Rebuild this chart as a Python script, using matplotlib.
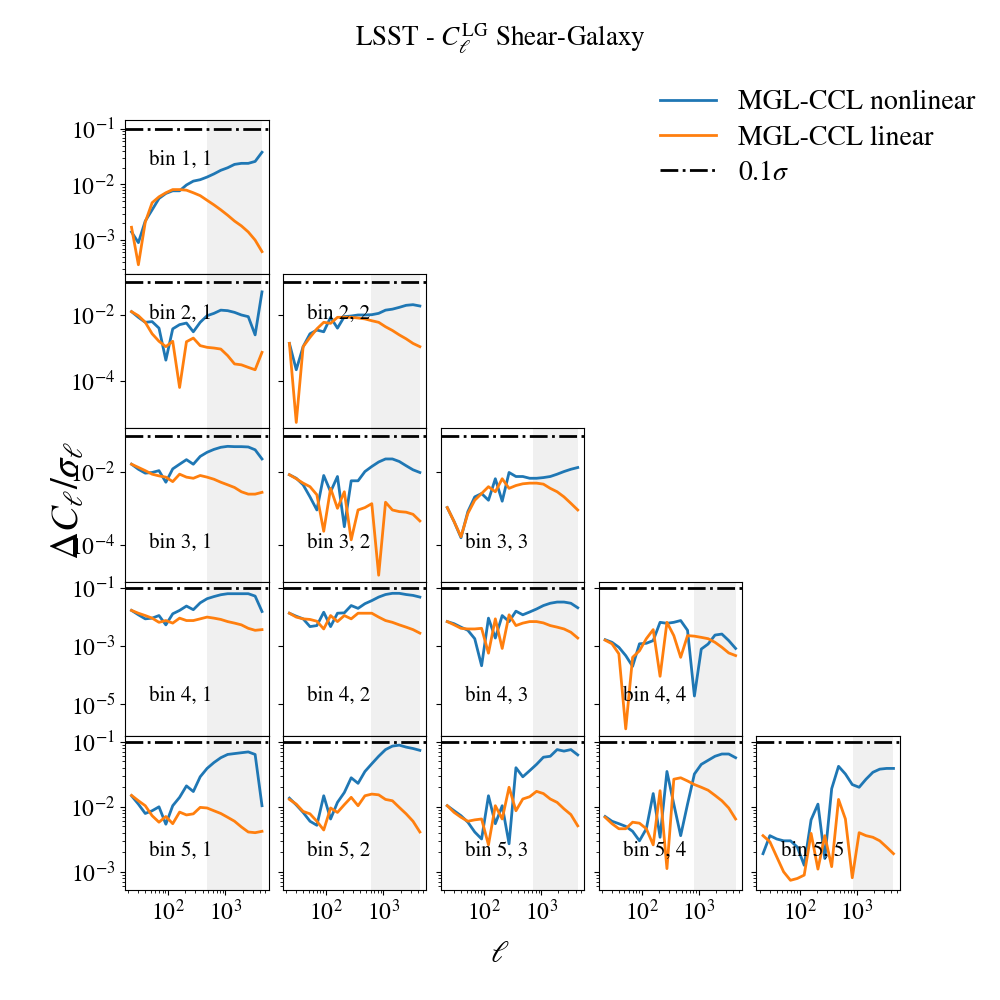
import numpy as np
import matplotlib
matplotlib.use('Agg')
import matplotlib.pyplot as plt
from matplotlib.ticker import FixedLocator, NullLocator, LogFormatterSciNotation

plt.rcParams['font.family'] = 'STIXGeneral'
plt.rcParams['mathtext.fontset'] = 'stix'

# multipole centres
ell = [22.96, 30.26, 39.88, 52.56, 69.28, 91.30, 120.34, 158.6, 209.0, 275.5,
       363.1, 478.6, 630.7, 831.3, 1095.6, 1444.0, 1903.1, 2508.2, 3305.7, 4356.8]

# scale cut per lens column
ell_cut = [470, 615, 730, 810, 850]
sigma_frac = 0.1

# nonlinear (blue) and linear (orange) residuals, panel "bin i, j"
nl_11 = [1.4e-3, 9e-4, 2.2e-3, 3.5e-3, 5.6e-3, 6.9e-3, 7.7e-3, 7.7e-3, 9.8e-3, 1.15e-2,
         1.22e-2, 1.36e-2, 1.55e-2, 1.8e-2, 2.0e-2, 2.3e-2, 2.4e-2, 2.4e-2, 2.6e-2, 3.8e-2]
li_11 = [1.7e-3, 3.6e-4, 2.1e-3, 4.7e-3, 6.0e-3, 7.1e-3, 8.1e-3, 8.1e-3, 7.9e-3, 7.1e-3,
         6.3e-3, 5.2e-3, 4.3e-3, 3.5e-3, 2.8e-3, 2.2e-3, 1.8e-3, 1.4e-3, 1.0e-3, 6.2e-4]

nl_21 = [1.26e-2, 8.5e-3, 6.0e-3, 6.3e-3, 4.0e-3, 4.3e-4, 3.8e-3, 5.1e-3, 5.7e-3, 3.1e-3,
         6.0e-3, 9.5e-3, 1.12e-2, 1.4e-2, 1.35e-2, 1.2e-2, 1.0e-2, 8.9e-3, 2.5e-3, 5.0e-2]
li_21 = [1.26e-2, 9.5e-3, 6.0e-3, 2.7e-3, 1.6e-3, 1.1e-3, 1.6e-3, 6.4e-5, 1.55e-3, 2.0e-3,
         1.18e-3, 1.05e-3, 1.0e-3, 9.3e-4, 5.9e-4, 3.3e-4, 3.1e-4, 2.6e-4, 2.2e-4, 7.4e-4]
nl_22 = [1.38e-3, 2.2e-4, 1.1e-3, 2.7e-3, 3.5e-3, 3.1e-3, 8.5e-3, 4.0e-3, 8.9e-3, 9.3e-3,
         1.0e-2, 1.0e-2, 1.02e-2, 1.12e-2, 1.4e-2, 1.5e-2, 1.7e-2, 1.96e-2, 2.05e-2, 1.87e-2]
li_22 = [1.38e-3, 5.6e-6, 1.1e-3, 2.1e-3, 3.8e-3, 6.0e-3, 5.6e-3, 8.5e-3, 8.5e-3, 8.5e-3,
         8.1e-3, 7.6e-3, 6.7e-3, 6.0e-3, 4.4e-3, 3.4e-3, 2.5e-3, 1.9e-3, 1.38e-3, 1.1e-3]

nl_31 = [1.65e-2, 1.2e-2, 9.4e-3, 9.8e-3, 1.1e-2, 5.3e-3, 1.23e-2, 1.65e-2, 2.2e-2, 1.65e-2,
         2.7e-2, 3.5e-2, 4.2e-2, 4.8e-2, 5.1e-2, 5.0e-2, 5.0e-2, 4.9e-2, 4.1e-2, 2.3e-2]
li_31 = [1.65e-2, 1.35e-2, 1.1e-2, 8.8e-3, 7.9e-3, 7.3e-3, 5.5e-3, 8.8e-3, 7.3e-3, 6.8e-3,
         8.1e-3, 7.3e-3, 6.4e-3, 5.3e-3, 4.5e-3, 3.8e-3, 2.9e-3, 2.5e-3, 2.5e-3, 2.8e-3]
nl_32 = [8.5e-3, 6.8e-3, 4.5e-3, 2.1e-3, 9.2e-4, 8.1e-3, 2.9e-3, 7.6e-3, 3.2e-4, 5.8e-3,
         5.8e-3, 1.04e-2, 1.43e-2, 1.9e-2, 2.3e-2, 2.3e-2, 1.96e-2, 1.5e-2, 1.16e-2, 9.8e-3]
li_32 = [8.5e-3, 6.6e-3, 5.0e-3, 4.0e-3, 2.4e-3, 2.4e-4, 3.6e-3, 1.02e-3, 2.9e-3, 1.4e-4,
         9.2e-4, 1.07e-3, 1.37e-3, 1.5e-5, 1.5e-3, 9.2e-4, 8.3e-4, 8.0e-4, 7.0e-4, 4.6e-4]
nl_33 = [1.07e-3, 4.4e-4, 1.6e-4, 8.3e-4, 2.1e-3, 2.6e-3, 1.7e-3, 6.6e-3, 1.6e-3, 9.8e-3,
         7.6e-3, 7.6e-3, 6.8e-3, 6.8e-3, 7.1e-3, 7.6e-3, 8.8e-3, 1.04e-2, 1.2e-2, 1.34e-2]
li_33 = [1.07e-3, 4.4e-4, 1.7e-4, 7.4e-4, 1.7e-3, 2.6e-3, 4.0e-3, 2.9e-3, 6.6e-3, 3.6e-3,
         4.3e-3, 4.8e-3, 5.0e-3, 5.0e-3, 4.7e-3, 3.6e-3, 2.9e-3, 2.1e-3, 1.4e-3, 9.2e-4]

nl_41 = [1.7e-2, 1.2e-2, 8.7e-3, 9.2e-3, 1.13e-2, 5.4e-3, 1.3e-2, 1.7e-2, 2.4e-2, 1.8e-2,
         3.1e-2, 4.3e-2, 5.1e-2, 5.9e-2, 6.4e-2, 6.4e-2, 6.4e-2, 6.4e-2, 5.3e-2, 1.56e-2]
li_41 = [1.7e-2, 1.36e-2, 1.13e-2, 9.2e-3, 6.6e-3, 7.6e-3, 6.2e-3, 9.2e-3, 7.6e-3, 7.6e-3,
         8.7e-3, 1.0e-2, 9.2e-3, 8.3e-3, 7.0e-3, 6.2e-3, 5.4e-3, 4.1e-3, 3.5e-3, 3.7e-3]
nl_42 = [1.36e-2, 1.07e-2, 8.7e-3, 4.7e-3, 5.1e-3, 1.47e-2, 4.7e-3, 1.36e-2, 1.4e-2, 2.5e-2,
         2.0e-2, 2.9e-2, 3.7e-2, 4.9e-2, 6.0e-2, 6.6e-2, 6.6e-2, 6.0e-2, 5.6e-2, 4.9e-2]
li_42 = [1.36e-2, 1.0e-2, 8.7e-3, 8.3e-3, 7.2e-3, 3.9e-3, 1.13e-2, 7.0e-3, 1.13e-2, 8.7e-3,
         1.36e-2, 1.36e-2, 1.36e-2, 1.0e-2, 7.6e-3, 6.6e-3, 5.4e-3, 4.5e-3, 3.7e-3, 2.8e-3]
nl_43 = [7.0e-3, 5.9e-3, 4.5e-3, 3.5e-3, 1.8e-3, 2.1e-4, 9.2e-3, 1.9e-3, 1.13e-2, 7.0e-3,
         1.6e-2, 1.2e-2, 1.5e-2, 1.9e-2, 2.5e-2, 3.0e-2, 3.3e-2, 3.3e-2, 3.0e-2, 2.1e-2]
li_43 = [7.0e-3, 5.4e-3, 4.1e-3, 3.9e-3, 3.9e-3, 4.1e-3, 5.7e-4, 8.7e-3, 8.3e-4, 1.2e-2,
         5.1e-3, 6.2e-3, 7.0e-3, 7.0e-3, 6.3e-3, 5.1e-3, 4.5e-3, 3.9e-3, 3.0e-3, 1.9e-3]
nl_44 = [1.66e-3, 1.35e-3, 9.1e-4, 4.7e-4, 2.0e-4, 1.2e-3, 1.25e-3, 1.55e-3, 6.6e-3, 6.1e-3,
         6.6e-3, 7.6e-3, 3.5e-3, 1.9e-5, 7.9e-4, 1.18e-3, 2.4e-3, 2.6e-3, 1.55e-3, 8.3e-4]
li_44 = [1.6e-3, 1.2e-3, 5.4e-4, 1.4e-6, 4.1e-4, 6.9e-4, 1.8e-3, 3.7e-3, 9.1e-5, 6.6e-3,
         2.3e-3, 4.1e-4, 2.3e-3, 2.2e-3, 2.0e-3, 1.8e-3, 1.35e-3, 9.1e-4, 5.8e-4, 4.7e-4]

nl_51 = [1.48e-2, 1.1e-2, 7.9e-3, 8.7e-3, 1.0e-2, 5.4e-3, 1.04e-2, 1.4e-2, 2.1e-2, 1.72e-2,
         2.9e-2, 3.9e-2, 4.8e-2, 5.7e-2, 6.4e-2, 6.6e-2, 6.8e-2, 7.0e-2, 6.4e-2, 1.04e-2]
li_51 = [1.5e-2, 1.24e-2, 1.04e-2, 7.3e-3, 5.8e-3, 7.1e-3, 5.5e-3, 8.3e-3, 7.5e-3, 7.8e-3,
         9.8e-3, 9.6e-3, 8.7e-3, 7.9e-3, 6.9e-3, 6.0e-3, 4.9e-3, 4.1e-3, 4.0e-3, 4.2e-3]
nl_52 = [1.36e-2, 1.07e-2, 8.2e-3, 6.0e-3, 5.2e-3, 1.48e-2, 6.5e-3, 1.17e-2, 1.66e-2, 2.8e-2,
         2.3e-2, 3.5e-2, 4.6e-2, 6.0e-2, 7.6e-2, 8.6e-2, 8.9e-2, 8.3e-2, 7.9e-2, 7.4e-2]
li_52 = [1.3e-2, 1.1e-2, 8.5e-3, 7.8e-3, 6.0e-3, 4.4e-3, 9.6e-3, 8.2e-3, 1.08e-2, 1.4e-2,
         1.04e-2, 1.48e-2, 1.57e-2, 1.53e-2, 1.3e-2, 1.24e-2, 9.8e-3, 7.8e-3, 6.0e-3, 4.1e-3]
nl_53 = [1.04e-2, 8.7e-3, 7.3e-3, 5.8e-3, 4.1e-3, 3.2e-3, 1.48e-2, 5.5e-3, 1.04e-2, 2.7e-3,
         4.0e-2, 2.9e-2, 3.6e-2, 4.5e-2, 5.8e-2, 6.0e-2, 7.6e-2, 7.2e-2, 7.6e-2, 6.3e-2]
li_53 = [1.04e-2, 8.2e-3, 6.9e-3, 6.0e-3, 6.3e-3, 6.5e-3, 2.6e-3, 1.04e-2, 6.5e-3, 2.0e-2,
         8.7e-3, 1.32e-2, 1.43e-2, 1.73e-2, 1.6e-2, 1.32e-2, 1.17e-2, 9.3e-3, 7.6e-3, 5.1e-3]
nl_54 = [7.1e-3, 6.0e-3, 5.5e-3, 5.0e-3, 4.2e-3, 3.0e-3, 4.6e-3, 1.6e-2, 3.4e-3, 3.5e-2,
         1.1e-2, 3.6e-3, 1.1e-2, 3.2e-2, 4.5e-2, 5.2e-2, 6.0e-2, 6.5e-2, 6.5e-2, 5.7e-2]
li_54 = [6.9e-3, 5.5e-3, 4.6e-3, 4.6e-3, 5.8e-3, 5.6e-3, 4.6e-3, 2.6e-3, 1.77e-2, 1.12e-3,
         2.66e-2, 2.8e-2, 2.5e-2, 2.2e-2, 2.0e-2, 1.8e-2, 1.5e-2, 1.24e-2, 9.6e-3, 6.5e-3]
nl_55 = [1.9e-3, 3.6e-3, 3.2e-3, 3.0e-3, 3.0e-3, 2.4e-3, 1.26e-3, 6.3e-3, 1.1e-2, 1.6e-3,
         1.9e-2, 4.2e-2, 3.2e-2, 2.2e-2, 2.0e-2, 2.66e-2, 3.4e-2, 3.8e-2, 3.9e-2, 3.9e-2]
li_55 = [3.6e-3, 2.9e-3, 1.7e-3, 1.0e-3, 7.4e-4, 7.9e-4, 8.9e-4, 3.9e-3, 1.1e-3, 3.6e-3,
         1.2e-3, 1.3e-2, 6.5e-3, 8.1e-4, 4.0e-3, 3.6e-3, 3.4e-3, 3.0e-3, 2.4e-3, 1.9e-3]

nonlinear = {(1, 1): nl_11, (2, 1): nl_21, (2, 2): nl_22, (3, 1): nl_31, (3, 2): nl_32,
             (3, 3): nl_33, (4, 1): nl_41, (4, 2): nl_42, (4, 3): nl_43, (4, 4): nl_44,
             (5, 1): nl_51, (5, 2): nl_52, (5, 3): nl_53, (5, 4): nl_54, (5, 5): nl_55}
linear = {(1, 1): li_11, (2, 1): li_21, (2, 2): li_22, (3, 1): li_31, (3, 2): li_32,
          (3, 3): li_33, (4, 1): li_41, (4, 2): li_42, (4, 3): li_43, (4, 4): li_44,
          (5, 1): li_51, (5, 2): li_52, (5, 3): li_53, (5, 4): li_54, (5, 5): li_55}

row_ylim = [(10**-3.61, 10**-0.84), (10**-5.42, 10**-0.76), (10**-5.01, 10**-0.79),
            (10**-6.1, 10**-0.79), (10**-3.28, 10**-0.91)]
row_ticks = [[1e-3, 1e-2, 1e-1], [1e-4, 1e-2], [1e-4, 1e-2],
             [1e-5, 1e-3, 1e-1], [1e-3, 1e-2, 1e-1]]
label_y = [0.74, 0.74, 0.25, 0.26, 0.25]

fig, axes = plt.subplots(5, 5, figsize=(10, 10), sharex=True, sharey='row')
fig.subplots_adjust(wspace=0.1, hspace=0.0)

handles = None
for i in range(5):
    for j in range(5):
        ax = axes[i, j]
        if j > i:
            ax.set_axis_off()
            continue
        ax.set_xscale('log')
        ax.set_yscale('log')
        ax.axvspan(ell_cut[j], ell[-1], color='#f0f0f0', lw=0, zorder=0)
        h1, = ax.plot(ell, nonlinear[(i + 1, j + 1)], color='#1f77b4', lw=2,
                      label='MGL-CCL nonlinear')
        h2, = ax.plot(ell, linear[(i + 1, j + 1)], color='#ff7f0e', lw=2,
                      label='MGL-CCL linear')
        h3 = ax.axhline(sigma_frac, color='black', ls='-.', lw=2, label=r'$0.1\sigma$')
        ax.text(0.17, label_y[i], f'bin {i + 1}, {j + 1}', transform=ax.transAxes,
                fontsize=15, va='center', ha='left')
        ax.tick_params(labelsize=17)
        if handles is None:
            handles = [h1, h2, h3]
    a0 = axes[i, 0]
    a0.set_ylim(*row_ylim[i])
    a0.yaxis.set_major_locator(FixedLocator(row_ticks[i]))
    a0.yaxis.set_major_formatter(LogFormatterSciNotation())
    if i in (1, 2, 3):
        a0.yaxis.set_minor_locator(NullLocator())

fig.suptitle(r'LSST - $C_\ell^{\rm LG}$ Shear-Galaxy', fontsize=19.5, y=0.978)
fig.text(0.068, 0.5, r'$\Delta C_\ell/\sigma_\ell$', rotation=90, ha='center',
         va='center', fontsize=28)
fig.text(0.5, 0.045, r'$\ell$', ha='center', va='center', fontsize=22)
fig.legend(handles=handles, loc='upper right', bbox_to_anchor=(1.0, 0.935),
           frameon=False, fontsize=20, labelspacing=0.35)

fig.savefig('out.png', dpi=100)
